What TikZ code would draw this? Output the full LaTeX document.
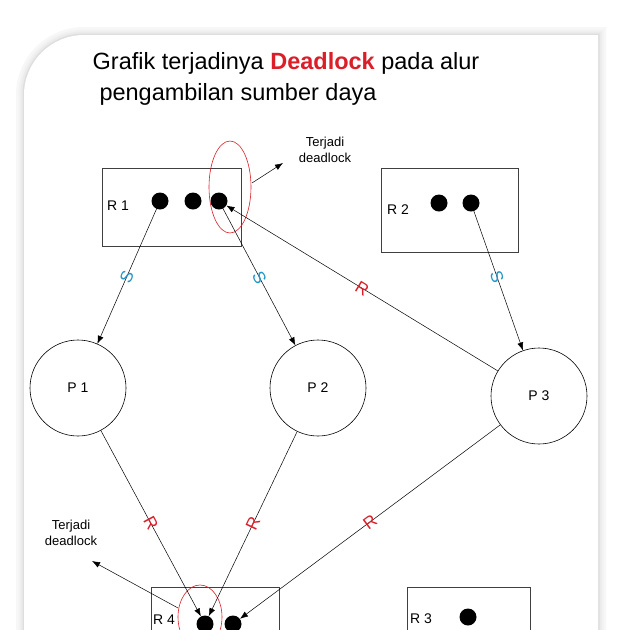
\documentclass[tikz,border=0pt]{standalone}
\usepackage{fontspec}
\setmainfont{Liberation Sans}
\usetikzlibrary{arrows.meta}
\definecolor{sblue}{RGB}{30,150,200}
\definecolor{rred}{RGB}{220,30,40}
\begin{document}
\begin{tikzpicture}[x=1pt,y=-1pt,
  box/.style={draw,black!75,line width=0.8pt},
  proc/.style={draw,circle,minimum size=96pt,inner sep=0pt,line width=0.6pt,font=\fontsize{14}{16}\selectfont},
  dot/.style={circle,fill=black,minimum size=17pt,inner sep=0pt},
  edge/.style={line width=0.5pt,-{Latex[length=8pt,width=6pt]}},
  lab/.style={font=\fontsize{14}{16}\selectfont},
  sl/.style={sloped,font=\fontsize{17}{18}\selectfont,fill=none,inner sep=1pt}]
\useasboundingbox (0,0) rectangle (618,630);
\fill[white] (0,0) rectangle (618,630);
% shadow
\foreach \w/\c in {16/3,11/5,7/8,3/13}{
  \draw[black!\c,line width=\w pt] (24,650) -- (24,95) arc[start angle=180,end angle=270,radius=60] -- (598,35) -- (598,650);}
\fill[white] (24,650) -- (24,95) arc[start angle=180,end angle=270,radius=60] -- (598,35) -- (598,650) -- cycle;
% title
\node[font=\fontsize{23.5}{26}\selectfont] (t1) at (286,63) {Grafik terjadinya \textcolor{rred}{\bfseries Deadlock} pada alur};
\node[font=\fontsize{23.5}{26}\selectfont] (t2) at (238,94) {pengambilan sumber daya};
% boxes
\draw[box] (102,168) rectangle (241,246);
\node[lab] (r1) at (118,206) {R 1};
\node[dot] (a1) at (160,201) {}; \node[dot] (a2) at (193,201) {}; \node[dot] (a3) at (219,201) {};
\draw[box] (381,168) rectangle (518,252);
\node[lab] (r2) at (398,210) {R 2};
\node[dot] (b1) at (439,203) {}; \node[dot] (b2) at (471,203) {};
\draw[box] (151,587) -- (151,635) (151,587) -- (279,587) -- (279,635);
\node[lab] (r4) at (164,620) {R 4};
\node[dot] (d1) at (205,624) {}; \node[dot] (d2) at (233,624) {};
\draw[box] (407,587) -- (407,635) (407,587) -- (530,587) -- (530,635);
\node[lab] (r3) at (421,619) {R 3};
\node[dot] (c1) at (468,617) {};
% processes
\node[proc] (p1) at (78,388) {P 1};
\node[proc] (p2) at (318,388) {P 2};
\node[proc] (p3) at (539,396) {P 3};
% red ellipses
\draw[rred,line width=0.6pt] (230,187) ellipse[x radius=21,y radius=46];
\draw[rred,line width=0.6pt] (200,617) ellipse[x radius=22,y radius=32];
% annotations
\node[font=\fontsize{13}{16}\selectfont,align=center] (n1) at (325,150) {Terjadi\\deadlock};
\node[font=\fontsize{13}{16}\selectfont,align=center] (n2) at (71,533) {Terjadi\\deadlock};
\coordinate (e1) at (252,183); \coordinate (e2) at (178,608);
\draw[edge] (e1) -- (283,163);
\draw[edge] (e2) -- (92,561);
% edges
\draw[edge] (a1.center) -- node[sl,text=sblue,pos=0.53]{S} (p1);
\draw[edge] (a3.center) -- node[sl,text=sblue,pos=0.53]{S} (p2);
\draw[edge] (b2.center) -- node[sl,text=sblue,pos=0.5]{S} (p3);
\draw[edge] (p3) -- node[sl,text=rred,pos=0.5]{R} (a3);
\draw[edge] (p1) -- node[sl,text=rred,pos=0.5]{R} (d1);
\draw[edge] (p2) -- node[sl,text=rred,pos=0.5]{R} (d1);
\draw[edge] (p3) -- node[sl,text=rred,pos=0.5]{R} (d2);
\end{tikzpicture}
\end{document}
